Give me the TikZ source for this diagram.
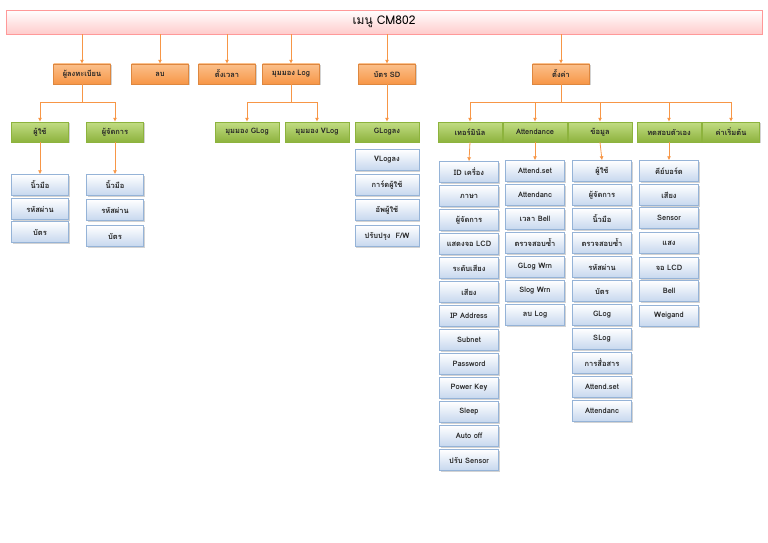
\documentclass[tikz,border=0pt]{standalone}
\usepackage{fontspec}
\setmainfont[Script=Thai]{Loma}
\usetikzlibrary{shadows,arrows.meta}
\definecolor{org}{HTML}{F79646}
\definecolor{orgl}{HTML}{FBC08C}
\definecolor{grn}{HTML}{8DB33D}
\definecolor{grnl}{HTML}{C2DC84}
\definecolor{blu}{HTML}{C6D7EE}
\definecolor{blub}{HTML}{95B3D7}
\definecolor{ln}{HTML}{F79646}
\begin{document}
\begin{tikzpicture}[x=1pt,y=-1pt,
  box/.style={draw, minimum height=20pt, inner sep=1pt, font=\fontsize{7.5}{8}\selectfont\bfseries, text=black!85,
     drop shadow={shadow xshift=1pt,shadow yshift=-1pt,opacity=.35}},
  ob/.style={box, draw=org!90!black, top color=orgl, bottom color=org, minimum width=57pt},
  gb/.style={box, draw=grn, top color=grnl, bottom color=grn, minimum width=64pt},
  bb/.style={box, draw=blub, top color=white, bottom color=blu, minimum width=#1, minimum height=21pt},
  bb/.default=59pt,
  ar/.style={draw=ln, thick, -{Latex[length=4pt,width=4pt]}},
  li/.style={draw=ln, thick}]
\useasboundingbox (0,0) rectangle (768,543);
\node[draw=red!40, top color=white, bottom color=red!20, minimum width=756pt, minimum height=24pt,
  font=\fontsize{12}{14}\selectfont, drop shadow={shadow xshift=1pt,shadow yshift=-1pt,opacity=.3}] (title) at (384,22) {เมนู CM802};
% level 1
\node[ob] (reg) at (82,74) {ผู้ลงทะเบียน};
\node[ob] (del) at (160,74) {ลบ};
\node[ob] (tim) at (227,74) {ตั้งเวลา};
\node[ob] (log) at (291,74) {มุมมอง Log};
\node[ob] (sd) at (387,74) {บัตร SD};
\node[ob] (set) at (561,74) {ตั้งค่า};
\foreach \n in {reg,del,tim,log,sd,set}
  \draw[ar] (title.south -| \n) -- (\n.north);
% level 2
\node[gb,minimum width=57pt] (user) at (40,132) {ผู้ใช้};
\node[gb,minimum width=57pt] (mgr) at (115,132) {ผู้จัดการ};
\node[gb] (vg) at (247,132) {มุมมอง GLog};
\node[gb] (vv) at (317,132) {มุมมอง VLog};
\node[gb] (gl) at (387,132) {GLogลง};
\node[gb] (term) at (470,132) {เทอร์มินัล};
\node[gb] (att) at (535,132) {Attendance};
\node[gb] (dat) at (600,132) {ข้อมูล};
\node[gb] (test) at (669,132) {ทดสอบตัวเอง};
\node[gb,minimum width=57pt] (def) at (731,132) {ค่าเริ่มต้น};
\coordinate (rj) at (82,102);
\draw[li] (reg.south) -- (rj);
\draw[li] (user.north |- rj) -- (mgr.north |- rj);
\draw[ar] (user.north |- rj) -- (user.north);
\draw[ar] (mgr.north |- rj) -- (mgr.north);
\coordinate (lj) at (291,102);
\draw[li] (log.south) -- (lj);
\draw[li] (vg.north |- lj) -- (vv.north |- lj);
\draw[ar] (vg.north |- lj) -- (vg.north);
\draw[ar] (vv.north |- lj) -- (vv.north);
\draw[ar] (sd.south) -- (gl.north);
\coordinate (sj) at (561,102);
\draw[li] (set.south) -- (sj);
\draw[li] (term.north |- sj) -- (def.north |- sj);
\foreach \n in {term,att,dat,test,def} \draw[ar] (\n.north |- sj) -- (\n.north);
% leaves
\foreach [count=\i] \t/\y in {นิ้วมือ/185,รหัสผ่าน/209,บัตร/232}
  \node[bb=57pt] (u\i) at (40,\y) {\t};
\foreach [count=\i] \t/\y in {นิ้วมือ/185,รหัสผ่าน/210,บัตร/236}
  \node[bb=57pt] (m\i) at (115,\y) {\t};
\draw[ar] (user.south) -- (u1.north);
\draw[ar] (mgr.south) -- (m1.north);
\node[bb=64pt] (s1) at (387,160) {VLogลง};
\node[bb=64pt] (s2) at (387,185) {การ์ดผู้ใช้};
\node[bb=64pt] (s3) at (387,210) {อัพผู้ใช้};
\node[bb=64pt] (s4) at (387,236) {ปรับปรุง\ \ F/W};
\foreach [count=\i] \t in {ID เครื่อง,ภาษา,ผู้จัดการ,แสดงจอ LCD,ระดับเสียง,เสียง,IP Address,Subnet,Password,Power Key,Sleep,Auto off,ปรับ Sensor}
  \node[bb] (t\i) at (469,{172+24*(\i-1)}) {\t};
\foreach [count=\i] \t in {Attend.set,Attendanc,เวลา Bell,ตรวจสอบซ้ำ,GLog Wrn,Slog Wrn,ลบ Log}
  \node[bb] (a\i) at (535,{171+24*(\i-1)}) {\t};
\foreach [count=\i] \t in {ผู้ใช้,ผู้จัดการ,นิ้วมือ,ตรวจสอบซ้ำ,รหัสผ่าน,บัตร,GLog,SLog,การสื่อสาร,Attend.set,Attendanc}
  \node[bb] (d\i) at (602,{171+24*(\i-1)}) {\t};
\foreach [count=\i] \t/\y in {คีย์บอร์ด/171,เสียง/195,Sensor/218,แสง/243,จอ LCD/268,Bell/291,Weigand/316}
  \node[bb] (x\i) at (669,\y) {\t};
\draw[ar] (term.south) -- (t1.north);
\draw[ar] (att.south) -- (a1.north);
\draw[ar] (dat.south) -- (d1.north);
\draw[ar] (test.south) -- (x1.north);
\end{tikzpicture}
\end{document}
